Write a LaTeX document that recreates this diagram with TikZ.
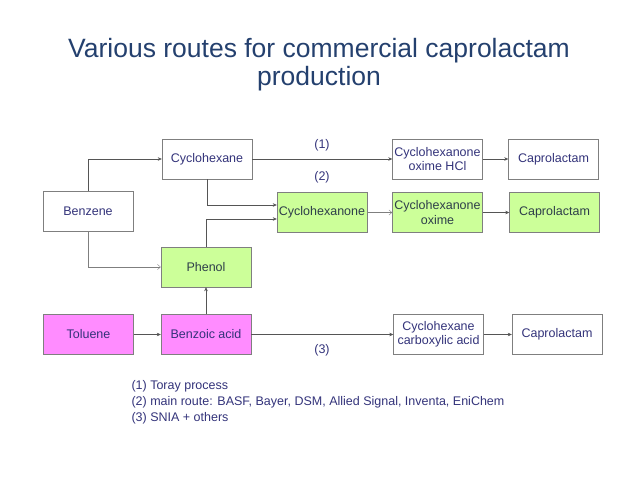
\documentclass[tikz,border=0pt]{standalone}
\usepackage{fontspec}
\setmainfont{Liberation Sans}
\usetikzlibrary{arrows.meta,positioning}
\definecolor{titleblue}{HTML}{24406E}
\definecolor{textnavy}{HTML}{33337A}
\definecolor{textgreen}{HTML}{2E3E4A}
\definecolor{boxgreen}{HTML}{CCFF99}
\definecolor{boxpink}{HTML}{FF8CFF}
\definecolor{edgegray}{HTML}{7F7F7F}
\definecolor{linegray}{HTML}{555555}

\begin{document}
\begin{tikzpicture}[x=1pt, y=-1pt,
  chem/.style={draw=edgegray, fill=white, text=textnavy, font=\fontsize{12.5}{14.5}\selectfont, minimum width=90pt, minimum height=40pt, inner sep=0pt, align=center},
  green/.style={chem, fill=boxgreen, text=textgreen},
  pink/.style={chem, fill=boxpink, text=textnavy},
  arr/.style={draw=linegray, -{Stealth[length=4pt,width=3.5pt]}},
  arrgray/.style={draw=edgegray, -{Straight Barb[length=3pt,width=5pt]}},
  route/.style={text=textnavy, font=\fontsize{12.5}{13}\selectfont}]
\useasboundingbox (0,0) rectangle (638,479);
% title
\node[text=titleblue, font=\fontsize{26.5}{28}\selectfont, align=center] (title) at (319,65) {Various routes for commercial caprolactam\\production};
% boxes
\node[chem]  (benzene) at (88,211) {Benzene};
\node[chem]  (cyhex)   at (207,159) {Cyclohexane};
\node[green] (phenol)  at (206,267) {Phenol};
\node[green] (cyone)   at (322,212.5) {Cyclohexanone};
\node[chem]  (oxhcl)   at (437.5,159) {Cyclohexanone\\oxime HCl};
\node[chem]  (cap1)    at (553.5,159) {Caprolactam};
\node[green] (oxime)   at (437.5,212.5) {Cyclohexanone\\oxime};
\node[green] (cap2)    at (554.5,212.5) {Caprolactam};
\node[pink]  (toluene) at (88.5,334.5) {Toluene};
\node[pink]  (benzoic) at (206,334.5) {Benzoic acid};
\node[chem]  (carbox)  at (438.5,334.5) {Cyclohexane\\carboxylic acid};
\node[chem]  (cap3)    at (557,334.5) {Caprolactam};
% connectors
\draw[arr] (benzene.north) |- (cyhex.west);
\draw[arrgray] (benzene.south) |- (phenol.west);
\draw[arr] (cyhex.south) |- ([yshift=7.5pt]cyone.west);
\draw[arr] (phenol.north) |- ([yshift=-6.5pt]cyone.west);
\draw[arr] (benzoic) -- (phenol);
\draw[arrgray] (cyone) -- (oxime);
\foreach \a/\b in {cyhex/oxhcl, oxhcl/cap1, oxime/cap2, toluene/benzoic, benzoic/carbox, carbox/cap3}
  \draw[arr] (\a) -- (\b);
% route labels
\node[route] (r1) at (322,145) {(1)};
\node[route] (r2) at (322,177) {(2)};
\node[route] (r3) at (322,350) {(3)};
\node[route, anchor=north west, align=left, font=\fontsize{12.5}{16}\selectfont] (legend) at (128,377) {(1) Toray process\\(2) main route: BASF, Bayer, DSM, Allied Signal, Inventa, EniChem\\(3) SNIA + others};
\end{tikzpicture}
\end{document}
